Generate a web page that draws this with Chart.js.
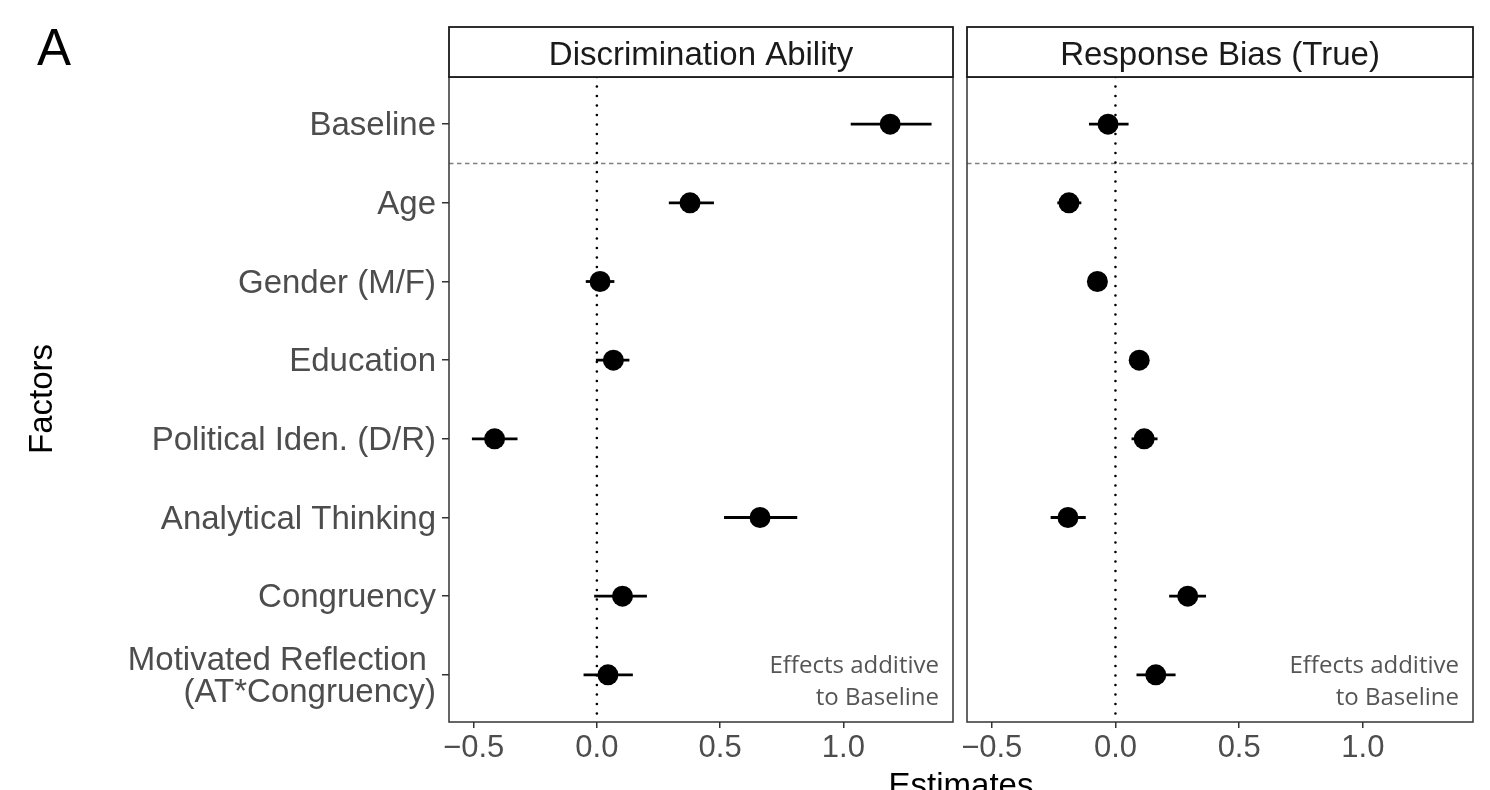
<!DOCTYPE html>
<html>
<head>
<meta charset="utf-8">
<script src="https://cdn.jsdelivr.net/npm/chart.js@4.4.1/dist/chart.umd.min.js"></script>
<style>
  html, body { margin: 0; padding: 0; background: #fff; }
  #wrap { position: relative; width: 1490px; height: 790px; overflow: hidden; }
  #wrap canvas { position: absolute; left: 0; top: 0; }
</style>
</head>
<body>
<div id="wrap">
  <canvas id="left" width="1490" height="790"></canvas>
  <canvas id="right" width="1490" height="790"></canvas>
</div>
<script>
// factors, top to bottom
var factors = ['Baseline', 'Age', 'Gender (M/F)', 'Education', 'Political Iden. (D/R)',
  'Analytical Thinking', 'Congruency', ['Motivated Reflection ', '(AT*Congruency)']];

// Discrimination Ability: estimate and interval
var discEst  = [1.19, 0.378, 0.013, 0.067, -0.415, 0.662, 0.104, 0.045];
var discLow  = [1.03, 0.292, -0.045, -0.004, -0.507, 0.516, -0.011, -0.054];
var discHigh = [1.358, 0.475, 0.071, 0.132, -0.322, 0.813, 0.203, 0.146];

// Response Bias (True)
var biasEst  = [-0.03, -0.188, -0.073, 0.096, 0.116, -0.192, 0.292, 0.163];
var biasLow  = [-0.107, -0.235, -0.11, 0.058, 0.065, -0.262, 0.217, 0.085];
var biasHigh = [0.053, -0.138, -0.04, 0.13, 0.17, -0.12, 0.366, 0.243];

var xTicks = [-0.5, 0, 0.5, 1.0];
var separatorAt = 1.5; // between Baseline and the effects

var FONT = '"Liberation Sans", Arial, Helvetica, sans-serif';
var xMin = -0.6, xMax = 1.445, yMin = 0.4, yMax = 8.6;

function fmt(v) {
  var s = Number(v).toFixed(1);
  return s.replace('-', '\u2212');
}

var panelFrame = {
  id: 'panelFrame',
  afterDraw: function (chart, args, opts) {
    var ctx = chart.ctx, a = chart.chartArea;
    var w = a.right - a.left;
    ctx.save();
    // panel border
    ctx.strokeStyle = '#333';
    ctx.lineWidth = 1.5;
    ctx.strokeRect(a.left, a.top, w, a.bottom - a.top);
    // strip
    ctx.fillStyle = '#fff';
    ctx.fillRect(a.left, 27, w, a.top - 27);
    ctx.strokeStyle = '#1a1a1a';
    ctx.lineWidth = 1.8;
    ctx.strokeRect(a.left, 27, w, a.top - 27);
    ctx.fillStyle = '#1a1a1a';
    ctx.font = '33px ' + FONT;
    ctx.textAlign = 'center';
    ctx.textBaseline = 'alphabetic';
    ctx.fillText(opts.title, (a.left + a.right) / 2, 65);
    // note
    ctx.fillStyle = '#555';
    ctx.font = '24px "Open Sans", sans-serif';
    ctx.textAlign = 'right';
    ctx.fillText('Effects additive', a.right - 14, a.bottom - 49);
    ctx.fillText('to Baseline', a.right - 14, a.bottom - 17);
    ctx.restore();
  }
};

var pageText = {
  id: 'pageText',
  afterDraw: function (chart) {
    var ctx = chart.ctx;
    ctx.save();
    ctx.fillStyle = '#000';
    ctx.textBaseline = 'alphabetic';
    ctx.font = '51px ' + FONT;
    ctx.textAlign = 'left';
    ctx.fillText('A', 37, 65);
    ctx.font = '33px ' + FONT;
    ctx.textAlign = 'center';
    ctx.fillText('Estimates', 961, 796);
    ctx.translate(52, 399);
    ctx.rotate(-Math.PI / 2);
    ctx.fillText('Factors', 0, 0);
    ctx.restore();
  }
};

function makePanel(id, title, est, low, high, showY, padLeft, padRight) {
  var datasets = [];
  datasets.push({
    data: est.map(function (v, i) { return { x: v, y: i + 1 }; }),
    pointRadius: 10.5,
    pointBackgroundColor: '#000',
    pointBorderWidth: 0,
    order: 0
  });
  est.forEach(function (v, i) {
    datasets.push({
      data: [{ x: low[i], y: i + 1 }, { x: high[i], y: i + 1 }],
      showLine: true,
      borderColor: '#000',
      borderWidth: 2.8,
      pointRadius: 0,
      order: 1
    });
  });
  datasets.push({
    data: [{ x: 0, y: yMin }, { x: 0, y: yMax }],
    showLine: true,
    borderColor: '#000',
    borderWidth: 2.6,
    borderDash: [0, 9.5],
    borderCapStyle: 'round',
    pointRadius: 0,
    order: 2
  });
  datasets.push({
    data: [{ x: xMin, y: separatorAt }, { x: xMax, y: separatorAt }],
    showLine: true,
    borderColor: '#808080',
    borderWidth: 1.3,
    borderDash: [4.5, 3.5],
    pointRadius: 0,
    order: 2
  });

  return new Chart(document.getElementById(id), {
    type: 'scatter',
    data: { datasets: datasets },
    options: {
      responsive: false,
      animation: false,
      events: [],
      layout: { padding: { left: padLeft, right: padRight, top: 77, bottom: 0 } },
      plugins: {
        legend: { display: false },
        tooltip: { enabled: false },
        panelFrame: { title: title }
      },
      scales: {
        x: {
          type: 'linear',
          min: xMin,
          max: xMax,
          afterBuildTicks: function (s) { s.ticks = xTicks.map(function (v) { return { value: v }; }); },
          afterFit: function (s) { s.height = 68; },
          border: { display: false },
          grid: { drawOnChartArea: false, drawTicks: true, tickLength: 6, color: '#333', lineWidth: 1.5 },
          ticks: {
            color: '#4d4d4d',
            font: { family: FONT, size: 31 },
            padding: 2,
            maxRotation: 0,
            autoSkip: false,
            callback: function (v) { return fmt(v); }
          }
        },
        y: {
          type: 'linear',
          display: showY,
          reverse: true,
          min: yMin,
          max: yMax,
          afterBuildTicks: function (s) { s.ticks = factors.map(function (f, i) { return { value: i + 1 }; }); },
          afterFit: function (s) { s.width = padLeft === 0 ? 449 : 0; },
          border: { display: false },
          grid: { drawOnChartArea: false, drawTicks: true, tickLength: 7, color: '#333', lineWidth: 1.5 },
          ticks: {
            color: '#4d4d4d',
            font: { family: FONT, size: 33, lineHeight: 0.98 },
            padding: 6,
            labelOffset: 2,
            autoSkip: false,
            callback: function (v, i) { return factors[i]; }
          }
        }
      }
    },
    plugins: showY ? [panelFrame, pageText] : [panelFrame]
  });
}

makePanel('left', 'Discrimination Ability', discEst, discLow, discHigh, true, 0, 1490 - 953);
makePanel('right', 'Response Bias (True)', biasEst, biasLow, biasHigh, false, 967, 1490 - 1473);
</script>
</body>
</html>
